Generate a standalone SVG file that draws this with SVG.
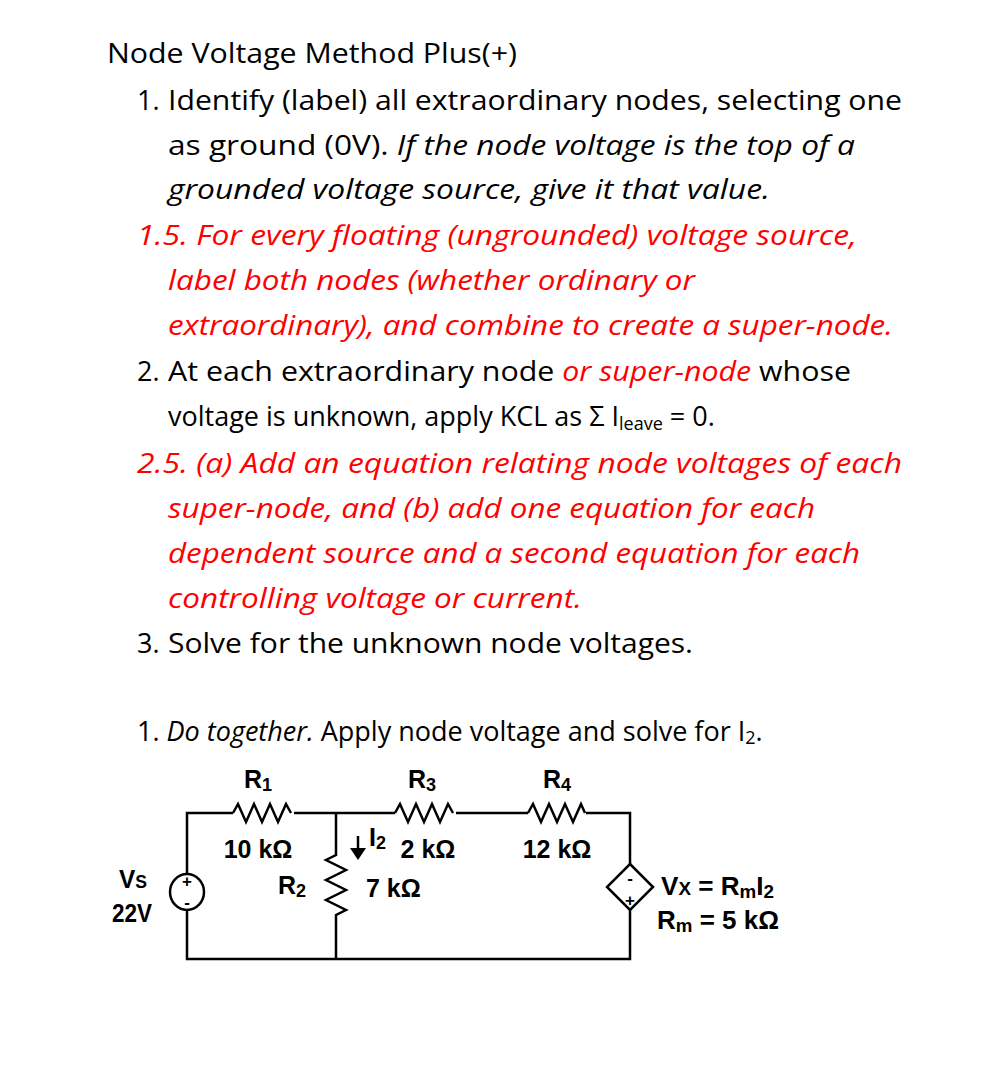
<svg xmlns="http://www.w3.org/2000/svg" width="990" height="1083" viewBox="0 0 990 1083">
<style>
.t{font-family:"Open Sans","Liberation Sans",sans-serif;font-size:27px;fill:#000}
.r{fill:#ff0000}
.i{font-style:italic}
.c{font-family:"Liberation Sans",Arial,sans-serif;font-weight:bold;font-size:25px;fill:#000}
.s{font-size:18px}
.p{font-family:"Liberation Sans",Arial,sans-serif;font-weight:bold;font-size:17px;fill:#000}
.w{fill:none;stroke:#000;stroke-width:2.5;stroke-linejoin:miter}
</style>
<rect width="990" height="1083" fill="#fff"/>
<g id="text">
<text class="t" x="107" y="63" textLength="410" lengthAdjust="spacingAndGlyphs">Node Voltage Method Plus(+)</text>
<text class="t" x="137" y="110">1.</text>
<text class="t" x="168" y="110" textLength="734" lengthAdjust="spacingAndGlyphs">Identify (label) all extraordinary nodes, selecting one</text>
<text class="t" x="168" y="155" textLength="687" lengthAdjust="spacingAndGlyphs">as ground (0V).  <tspan class="i">If the node voltage is the top of a</tspan></text>
<text class="t i" x="168" y="199" textLength="602" lengthAdjust="spacingAndGlyphs">grounded voltage source, give it that value.</text>
<text class="t r i" x="137" y="245" textLength="720" lengthAdjust="spacingAndGlyphs">1.5. For every floating (ungrounded) voltage source,</text>
<text class="t r i" x="168" y="290" textLength="527" lengthAdjust="spacingAndGlyphs">label both nodes (whether ordinary or</text>
<text class="t r i" x="168" y="335" textLength="725" lengthAdjust="spacingAndGlyphs">extraordinary), and combine to create a super-node.</text>
<text class="t" x="137" y="381">2.</text>
<text class="t" x="168" y="381" textLength="683" lengthAdjust="spacingAndGlyphs">At each extraordinary node <tspan class="r i">or super-node</tspan> whose</text>
<text class="t" x="168" y="426">voltage is unknown, apply KCL as Σ I<tspan font-size="18" dy="4">leave</tspan><tspan dy="-4"> = 0.</tspan></text>
<text class="t r i" x="137" y="473" textLength="765" lengthAdjust="spacingAndGlyphs">2.5. (a) Add an equation relating node voltages of each</text>
<text class="t r i" x="168" y="518" textLength="647" lengthAdjust="spacingAndGlyphs">super-node, and (b) add one equation for each</text>
<text class="t r i" x="168" y="563" textLength="692" lengthAdjust="spacingAndGlyphs">dependent source and a second equation for each</text>
<text class="t r i" x="168" y="608" textLength="414" lengthAdjust="spacingAndGlyphs">controlling voltage or current.</text>
<text class="t" x="137" y="653">3.</text>
<text class="t" x="168" y="653" textLength="525" lengthAdjust="spacingAndGlyphs">Solve for the unknown node voltages.</text>
<text class="t" x="137" y="741">1. <tspan class="i">Do together.</tspan> Apply node voltage and solve for I<tspan font-size="18" dy="3">2</tspan><tspan dy="-3">.</tspan></text>
</g>
<g id="connectors">
<path class="w" d="M187,874 V813 H233 M294,813 H395 M456,813 H528 M586,813 H630 V864 M630,910 V959 H187 V910"/>
<path class="w" d="M233,813 l5,-9 l8,18 l8,-18 l8,18 l8,-18 l8,18 l8,-18 l5,9"/>
<path class="w" d="M395,813 l5,-9 l8,18 l8,-18 l8,18 l8,-18 l8,18 l8,-18 l5,9"/>
<path class="w" d="M528,813 l5,-9 l8,18 l8,-18 l8,18 l8,-18 l8,18 l8,-18 l4,9"/>
<path class="w" d="M336,813 V855 l-10,5 l20,10 l-20,10 l20,10 l-20,10 l20,10 l-10,5 V959"/>
</g>
<g id="Vs">
<ellipse class="w" cx="187" cy="892" rx="17" ry="18"/>
<text class="p" x="187" y="887" text-anchor="middle">+</text>
<text class="p" x="187" y="908" text-anchor="middle">-</text>
<text class="c" x="119" y="888" textLength="28" lengthAdjust="spacingAndGlyphs">V<tspan class="s">S</tspan></text>
<text class="c" x="112" y="922" textLength="40" lengthAdjust="spacingAndGlyphs">22V</text>
</g>
<g id="Vx">
<path class="w" d="M630,864 L653,887 L630,910 L607,887 Z"/>
<text class="p" x="630" y="884" text-anchor="middle">-</text>
<text class="p" x="630" y="906" text-anchor="middle">+</text>
<text class="c" x="661" y="895" textLength="113" lengthAdjust="spacingAndGlyphs">V<tspan class="s">X</tspan> = R<tspan class="s" dy="3">m</tspan><tspan dy="-3">I</tspan><tspan class="s" dy="3">2</tspan></text>
<text class="c" x="657" y="929" textLength="122" lengthAdjust="spacingAndGlyphs">R<tspan class="s" dy="3">m</tspan><tspan dy="-3"> = 5 kΩ</tspan></text>
</g>
<g id="labels">
<text class="c" x="258" y="788" text-anchor="middle">R<tspan class="s" dy="3">1</tspan></text>
<text class="c" x="258" y="858" text-anchor="middle">10 kΩ</text>
<text class="c" x="422" y="788" text-anchor="middle">R<tspan class="s" dy="3">3</tspan></text>
<text class="c" x="428" y="858" text-anchor="middle">2 kΩ</text>
<text class="c" x="557" y="788" text-anchor="middle">R<tspan class="s" dy="3">4</tspan></text>
<text class="c" x="557" y="858" text-anchor="middle">12 kΩ</text>
<text class="c" x="278" y="894">R<tspan class="s" dy="3">2</tspan></text>
<text class="c" x="366" y="897">7 kΩ</text>
<path d="M358,836 V850" stroke="#000" stroke-width="2.5"/>
<path d="M350,848 L358,860 L366,848 Z" fill="#000"/>
<text class="c" x="369" y="846">I<tspan class="s" dy="3">2</tspan></text>
</g>
</svg>
